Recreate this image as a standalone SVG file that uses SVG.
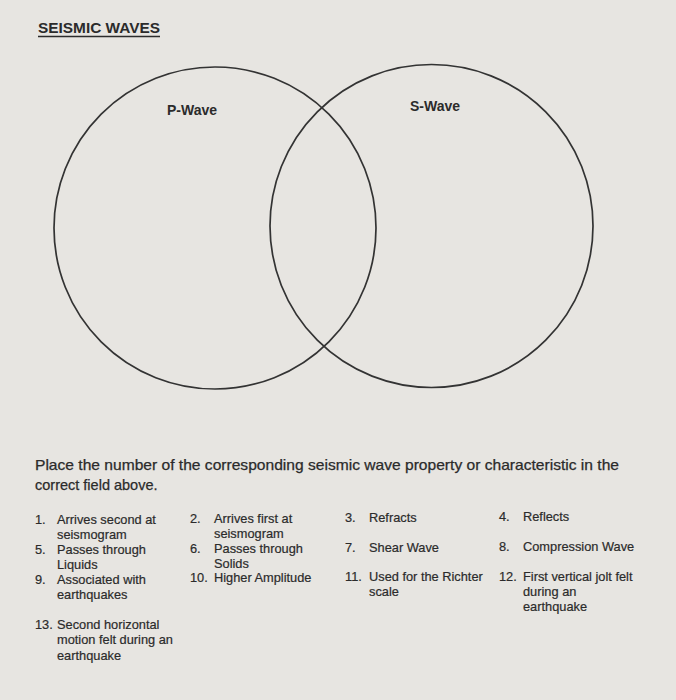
<svg xmlns="http://www.w3.org/2000/svg" width="676" height="700" viewBox="0 0 676 700">
<style>
text{font-family:"Liberation Sans",Arial,sans-serif;fill:#2b2b2b}
.title{font-size:15.5px;font-weight:bold}
.lbl{font-size:14px;font-weight:bold}
.para{font-size:14.5px;stroke:#2b2b2b;stroke-width:0.25}
.item{font-size:12.8px;stroke:#2b2b2b;stroke-width:0.2}
.venn{fill:none;stroke:#333;stroke-width:1.7}
</style>
<rect x="0" y="0" width="676" height="700" fill="#e7e5e1"/>
<g id="title">
<text class="title" x="38" y="33" textLength="122" lengthAdjust="spacingAndGlyphs">SEISMIC WAVES</text>
<line x1="38" y1="36.5" x2="160" y2="36.5" stroke="#2b2b2b" stroke-width="1.4"/>
</g>
<g id="p-wave">
<circle class="venn" cx="215" cy="228" r="161"/>
<text class="lbl" x="167" y="115">P-Wave</text>
</g>
<g id="s-wave">
<circle class="venn" cx="431.5" cy="226" r="161.5"/>
<text class="lbl" x="410" y="111">S-Wave</text>
</g>
<g id="connectors"></g>
<g id="instructions">
<text class="para" x="35" y="470" textLength="584" lengthAdjust="spacingAndGlyphs">Place the number of the corresponding seismic wave property or characteristic in the</text>
<text class="para" x="35" y="490">correct field above.</text>
</g>
<g id="col1">
<text class="item" x="35" y="524">1.</text><text class="item" x="57" y="524">Arrives second at</text>
<text class="item" x="57" y="539">seismogram</text>
<text class="item" x="35" y="554">5.</text><text class="item" x="57" y="554">Passes through</text>
<text class="item" x="57" y="569">Liquids</text>
<text class="item" x="35" y="584">9.</text><text class="item" x="57" y="584">Associated with</text>
<text class="item" x="57" y="599">earthquakes</text>
<text class="item" x="35" y="629">13.</text><text class="item" x="57" y="629">Second horizontal</text>
<text class="item" x="57" y="644">motion felt during an</text>
<text class="item" x="57" y="660">earthquake</text>
</g>
<g id="col2">
<text class="item" x="190" y="523">2.</text><text class="item" x="214" y="523">Arrives first at</text>
<text class="item" x="214" y="538">seismogram</text>
<text class="item" x="190" y="553">6.</text><text class="item" x="214" y="553">Passes through</text>
<text class="item" x="214" y="568">Solids</text>
<text class="item" x="190" y="582">10.</text><text class="item" x="214" y="582">Higher Amplitude</text>
</g>
<g id="col3">
<text class="item" x="345" y="522">3.</text><text class="item" x="369" y="522">Refracts</text>
<text class="item" x="345" y="552">7.</text><text class="item" x="369" y="552">Shear Wave</text>
<text class="item" x="345" y="581">11.</text><text class="item" x="369" y="581">Used for the Richter</text>
<text class="item" x="369" y="596">scale</text>
</g>
<g id="col4">
<text class="item" x="499" y="521">4.</text><text class="item" x="523" y="521">Reflects</text>
<text class="item" x="499" y="551">8.</text><text class="item" x="523" y="551">Compression Wave</text>
<text class="item" x="499" y="581">12.</text><text class="item" x="523" y="581">First vertical jolt felt</text>
<text class="item" x="523" y="596">during an</text>
<text class="item" x="523" y="611">earthquake</text>
</g>
</svg>
